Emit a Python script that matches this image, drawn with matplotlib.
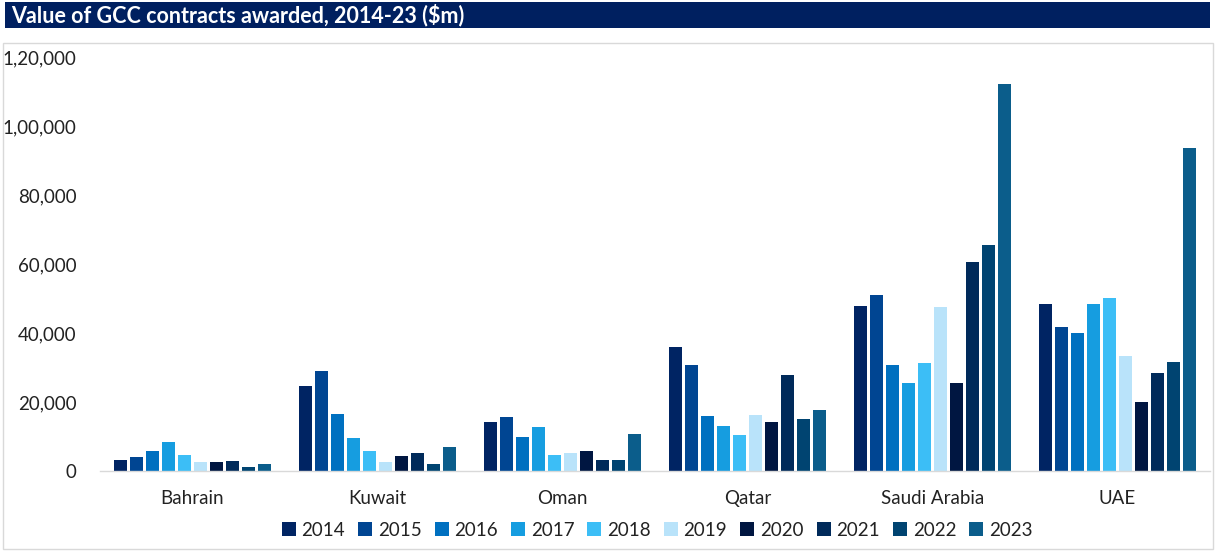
import matplotlib.pyplot as plt
from matplotlib.patches import Rectangle
from matplotlib.ticker import FuncFormatter
import numpy as np

plt.rcParams['font.family'] = ['Lato', 'DejaVu Sans']

countries = ["Bahrain", "Kuwait", "Oman", "Qatar", "Saudi Arabia", "UAE"]
years = ["2014", "2015", "2016", "2017", "2018", "2019", "2020", "2021", "2022", "2023"]

# values per year, one entry per country ($m)
v2014 = [3300, 24600, 14100, 35900, 47900, 48300]
v2015 = [4000, 29100, 15600, 30700, 51100, 41800]
v2016 = [5900, 16500, 9800, 16000, 30700, 40100]
v2017 = [8300, 9500, 12800, 13000, 25400, 48500]
v2018 = [4600, 5800, 4700, 10300, 31300, 50200]
v2019 = [2700, 2700, 5200, 16300, 47600, 33400]
v2020 = [2700, 4300, 5800, 14300, 25500, 20100]
v2021 = [2900, 5200, 3300, 27800, 60600, 28300]
v2022 = [1200, 2000, 3200, 15100, 65500, 31700]
v2023 = [1900, 7000, 10600, 17800, 112100, 93600]
values = [v2014, v2015, v2016, v2017, v2018, v2019, v2020, v2021, v2022, v2023]

colors = ["#002463", "#004592", "#0070C0", "#169DE0", "#3CBEF6",
          "#B9E3FA", "#001641", "#002A5A", "#004471", "#0B5D8B"]

def indian_fmt(x, pos):
    n = int(round(x))
    s = str(n)
    if len(s) <= 3:
        return s
    head, tail = s[:-3], s[-3:]
    parts = []
    while len(head) > 2:
        parts.insert(0, head[-2:])
        head = head[:-2]
    if head:
        parts.insert(0, head)
    return ",".join(parts) + "," + tail

fig = plt.figure(figsize=(12.16, 5.53), dpi=100)

# title bar
fig.patches.append(Rectangle((5 / 1216, 1 - 28 / 553), 1205 / 1216, 26 / 553,
                             transform=fig.transFigure, facecolor="#002060",
                             edgecolor="none"))
fig.text(11 / 1216, 1 - 15 / 553, "Value of GCC contracts awarded, 2014-23 (\\$m)",
         color="white", fontsize=15.5, fontweight="bold", va="center", ha="left")

# chart frame
fig.patches.append(Rectangle((3 / 1216, 1 - 549 / 553), 1210 / 1216, 506 / 553,
                             transform=fig.transFigure, facecolor="none",
                             edgecolor="#D9D9D9", linewidth=1))

ax = fig.add_axes([100 / 1216, 1 - 471 / 553, 1110 / 1216, 414 / 553])

x = np.arange(len(countries))
pitch = 0.0865
width = 0.07
for i, (yr, vals) in enumerate(zip(years, values)):
    ax.bar(x + (i - 4.5) * pitch, vals, width=width, color=colors[i], label=yr)

ax.set_xlim(-0.5, len(countries) - 0.5)
ax.set_ylim(0, 120000)
ax.set_yticks(np.arange(0, 120001, 20000))
ax.yaxis.set_major_formatter(FuncFormatter(indian_fmt))
ax.set_xticks(x)
ax.set_xticklabels(countries)
ax.tick_params(axis="both", length=0, labelsize=13.5, colors="#222222")
ax.tick_params(axis="y", pad=17)
ax.tick_params(axis="x", pad=14)
for side in ["top", "right", "left"]:
    ax.spines[side].set_visible(False)
ax.spines["bottom"].set_color("#D9D9D9")
ax.spines["bottom"].set_linewidth(1)

fig.legend(loc="center", bbox_to_anchor=(657 / 1216, 1 - 530 / 553), ncol=10,
           frameon=False, fontsize=13.5, handlelength=0.75, handleheight=0.75,
           handletextpad=0.3, columnspacing=0.7, labelcolor="#222222")

fig.savefig("out.png", dpi=100)
